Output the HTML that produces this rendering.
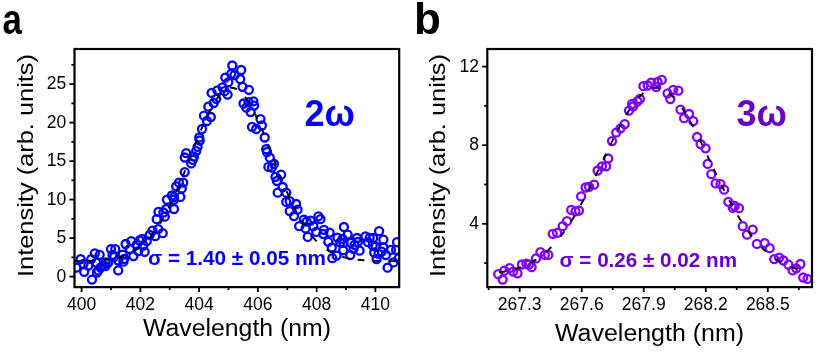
<!DOCTYPE html>
<html><head><meta charset="utf-8"><style>
html,body{margin:0;padding:0;background:#fff;width:830px;height:353px;overflow:hidden}
svg{display:block;will-change:transform}
text{font-family:"Liberation Sans",sans-serif}
</style></head><body>
<svg width="830" height="353" viewBox="0 0 830 353">
<defs><clipPath id="ca"><rect x="74.5" y="49.0" width="324.70" height="238.10"/></clipPath><clipPath id="cb"><rect x="487.3" y="49.0" width="324.70" height="238.10"/></clipPath></defs>
<line x1="69.40" y1="276.60" x2="74.50" y2="276.60" stroke="#000" stroke-width="1.8"/>
<line x1="69.40" y1="238.10" x2="74.50" y2="238.10" stroke="#000" stroke-width="1.8"/>
<line x1="69.40" y1="199.60" x2="74.50" y2="199.60" stroke="#000" stroke-width="1.8"/>
<line x1="69.40" y1="161.10" x2="74.50" y2="161.10" stroke="#000" stroke-width="1.8"/>
<line x1="69.40" y1="122.60" x2="74.50" y2="122.60" stroke="#000" stroke-width="1.8"/>
<line x1="69.40" y1="84.10" x2="74.50" y2="84.10" stroke="#000" stroke-width="1.8"/>
<line x1="71.40" y1="257.35" x2="74.50" y2="257.35" stroke="#000" stroke-width="1.8"/>
<line x1="71.40" y1="218.85" x2="74.50" y2="218.85" stroke="#000" stroke-width="1.8"/>
<line x1="71.40" y1="180.35" x2="74.50" y2="180.35" stroke="#000" stroke-width="1.8"/>
<line x1="71.40" y1="141.85" x2="74.50" y2="141.85" stroke="#000" stroke-width="1.8"/>
<line x1="71.40" y1="103.35" x2="74.50" y2="103.35" stroke="#000" stroke-width="1.8"/>
<line x1="71.40" y1="64.85" x2="74.50" y2="64.85" stroke="#000" stroke-width="1.8"/>
<line x1="81.60" y1="287.10" x2="81.60" y2="292.00" stroke="#000" stroke-width="1.8"/>
<line x1="140.36" y1="287.10" x2="140.36" y2="292.00" stroke="#000" stroke-width="1.8"/>
<line x1="199.12" y1="287.10" x2="199.12" y2="292.00" stroke="#000" stroke-width="1.8"/>
<line x1="257.88" y1="287.10" x2="257.88" y2="292.00" stroke="#000" stroke-width="1.8"/>
<line x1="316.64" y1="287.10" x2="316.64" y2="292.00" stroke="#000" stroke-width="1.8"/>
<line x1="375.40" y1="287.10" x2="375.40" y2="292.00" stroke="#000" stroke-width="1.8"/>
<line x1="110.98" y1="287.10" x2="110.98" y2="290.00" stroke="#000" stroke-width="1.8"/>
<line x1="169.74" y1="287.10" x2="169.74" y2="290.00" stroke="#000" stroke-width="1.8"/>
<line x1="228.50" y1="287.10" x2="228.50" y2="290.00" stroke="#000" stroke-width="1.8"/>
<line x1="287.26" y1="287.10" x2="287.26" y2="290.00" stroke="#000" stroke-width="1.8"/>
<line x1="346.02" y1="287.10" x2="346.02" y2="290.00" stroke="#000" stroke-width="1.8"/>
<text x="66.20" y="281.80" font-size="17.5" font-weight="normal" text-anchor="end" fill="#000" >0</text>
<text x="66.20" y="243.30" font-size="17.5" font-weight="normal" text-anchor="end" fill="#000" >5</text>
<text x="66.20" y="204.80" font-size="17.5" font-weight="normal" text-anchor="end" fill="#000" >10</text>
<text x="66.20" y="166.30" font-size="17.5" font-weight="normal" text-anchor="end" fill="#000" >15</text>
<text x="66.20" y="127.80" font-size="17.5" font-weight="normal" text-anchor="end" fill="#000" >20</text>
<text x="66.20" y="89.30" font-size="17.5" font-weight="normal" text-anchor="end" fill="#000" >25</text>
<text x="81.60" y="309.80" font-size="17.5" font-weight="normal" text-anchor="middle" fill="#000" >400</text>
<text x="140.36" y="309.80" font-size="17.5" font-weight="normal" text-anchor="middle" fill="#000" >402</text>
<text x="199.12" y="309.80" font-size="17.5" font-weight="normal" text-anchor="middle" fill="#000" >404</text>
<text x="257.88" y="309.80" font-size="17.5" font-weight="normal" text-anchor="middle" fill="#000" >406</text>
<text x="316.64" y="309.80" font-size="17.5" font-weight="normal" text-anchor="middle" fill="#000" >408</text>
<text x="375.40" y="309.80" font-size="17.5" font-weight="normal" text-anchor="middle" fill="#000" >410</text>
<line x1="482.20" y1="223.80" x2="487.30" y2="223.80" stroke="#000" stroke-width="1.8"/>
<line x1="482.20" y1="145.20" x2="487.30" y2="145.20" stroke="#000" stroke-width="1.8"/>
<line x1="482.20" y1="66.60" x2="487.30" y2="66.60" stroke="#000" stroke-width="1.8"/>
<line x1="484.20" y1="263.10" x2="487.30" y2="263.10" stroke="#000" stroke-width="1.8"/>
<line x1="484.20" y1="184.50" x2="487.30" y2="184.50" stroke="#000" stroke-width="1.8"/>
<line x1="484.20" y1="105.90" x2="487.30" y2="105.90" stroke="#000" stroke-width="1.8"/>
<line x1="519.70" y1="287.10" x2="519.70" y2="292.00" stroke="#000" stroke-width="1.8"/>
<line x1="581.73" y1="287.10" x2="581.73" y2="292.00" stroke="#000" stroke-width="1.8"/>
<line x1="643.75" y1="287.10" x2="643.75" y2="292.00" stroke="#000" stroke-width="1.8"/>
<line x1="705.77" y1="287.10" x2="705.77" y2="292.00" stroke="#000" stroke-width="1.8"/>
<line x1="767.80" y1="287.10" x2="767.80" y2="292.00" stroke="#000" stroke-width="1.8"/>
<line x1="488.69" y1="287.10" x2="488.69" y2="290.00" stroke="#000" stroke-width="1.8"/>
<line x1="550.71" y1="287.10" x2="550.71" y2="290.00" stroke="#000" stroke-width="1.8"/>
<line x1="612.74" y1="287.10" x2="612.74" y2="290.00" stroke="#000" stroke-width="1.8"/>
<line x1="674.76" y1="287.10" x2="674.76" y2="290.00" stroke="#000" stroke-width="1.8"/>
<line x1="736.79" y1="287.10" x2="736.79" y2="290.00" stroke="#000" stroke-width="1.8"/>
<line x1="798.81" y1="287.10" x2="798.81" y2="290.00" stroke="#000" stroke-width="1.8"/>
<text x="479.00" y="229.00" font-size="17.5" font-weight="normal" text-anchor="end" fill="#000" >4</text>
<text x="479.00" y="150.40" font-size="17.5" font-weight="normal" text-anchor="end" fill="#000" >8</text>
<text x="479.00" y="71.80" font-size="17.5" font-weight="normal" text-anchor="end" fill="#000" >12</text>
<text x="519.70" y="309.80" font-size="17.5" font-weight="normal" text-anchor="middle" fill="#000" >267.3</text>
<text x="581.73" y="309.80" font-size="17.5" font-weight="normal" text-anchor="middle" fill="#000" >267.6</text>
<text x="643.75" y="309.80" font-size="17.5" font-weight="normal" text-anchor="middle" fill="#000" >267.9</text>
<text x="705.77" y="309.80" font-size="17.5" font-weight="normal" text-anchor="middle" fill="#000" >268.2</text>
<text x="767.80" y="309.80" font-size="17.5" font-weight="normal" text-anchor="middle" fill="#000" >268.5</text>
<text x="237.00" y="336.30" font-size="23" font-weight="normal" text-anchor="middle" fill="#000" textLength="188" lengthAdjust="spacingAndGlyphs">Wavelength (nm)</text>
<text x="649.50" y="341.10" font-size="23" font-weight="normal" text-anchor="middle" fill="#000" textLength="189" lengthAdjust="spacingAndGlyphs">Wavelength (nm)</text>
<text transform="translate(33.0,277.0) rotate(-90)" x="0" y="0" font-size="22.5" textLength="223" lengthAdjust="spacingAndGlyphs">Intensity (arb. units)</text>
<text transform="translate(445.0,277.0) rotate(-90)" x="0" y="0" font-size="22.5" textLength="223" lengthAdjust="spacingAndGlyphs">Intensity (arb. units)</text>
<text transform="translate(2.6,33.9) scale(0.83,1)" x="0" y="0" font-size="42" font-weight="bold">a</text>
<text x="414.00" y="34.00" font-size="44" font-weight="bold" text-anchor="start" fill="#000" >b</text>
<text x="304.50" y="126.00" font-size="36" font-weight="bold" text-anchor="start" fill="#0000ff" >2ω</text>
<text x="736.50" y="126.00" font-size="36" font-weight="bold" text-anchor="start" fill="#6a00cc" >3ω</text>
<text x="148.00" y="265.40" font-size="20.5" font-weight="bold" text-anchor="start" fill="#0000ff" textLength="178" lengthAdjust="spacingAndGlyphs">σ = 1.40 ± 0.05 nm</text>
<text x="559.50" y="267.00" font-size="20.5" font-weight="bold" text-anchor="start" fill="#6a00cc" textLength="177.5" lengthAdjust="spacingAndGlyphs">σ = 0.26 ± 0.02 nm</text>
<g fill="none" stroke="#0000ff" stroke-width="2.3" clip-path="url(#ca)">
<circle cx="76.4" cy="267.6" r="4.0"/>
<circle cx="80.6" cy="259.1" r="4.0"/>
<circle cx="84.2" cy="271.8" r="4.0"/>
<circle cx="83.5" cy="264.0" r="4.0"/>
<circle cx="88.4" cy="265.5" r="4.0"/>
<circle cx="91.2" cy="259.1" r="4.0"/>
<circle cx="92.0" cy="279.6" r="4.0"/>
<circle cx="94.8" cy="253.4" r="4.0"/>
<circle cx="96.2" cy="262.6" r="4.0"/>
<circle cx="99.7" cy="254.8" r="4.0"/>
<circle cx="98.3" cy="270.4" r="4.0"/>
<circle cx="100.5" cy="267.6" r="4.0"/>
<circle cx="96.9" cy="272.5" r="4.0"/>
<circle cx="105.4" cy="266.2" r="4.0"/>
<circle cx="108.2" cy="262.6" r="4.0"/>
<circle cx="111.0" cy="249.2" r="4.0"/>
<circle cx="115.3" cy="249.2" r="4.0"/>
<circle cx="112.5" cy="254.8" r="4.0"/>
<circle cx="118.2" cy="270.4" r="4.0"/>
<circle cx="118.2" cy="260.5" r="4.0"/>
<circle cx="124.2" cy="258.9" r="4.0"/>
<circle cx="125.6" cy="244.0" r="4.0"/>
<circle cx="131.2" cy="241.2" r="4.0"/>
<circle cx="129.8" cy="249.0" r="4.0"/>
<circle cx="133.4" cy="256.1" r="4.0"/>
<circle cx="136.9" cy="244.7" r="4.0"/>
<circle cx="139.7" cy="240.5" r="4.0"/>
<circle cx="138.3" cy="251.1" r="4.0"/>
<circle cx="143.3" cy="245.5" r="4.0"/>
<circle cx="144.7" cy="251.8" r="4.0"/>
<circle cx="146.8" cy="241.2" r="4.0"/>
<circle cx="149.7" cy="234.8" r="4.0"/>
<circle cx="152.5" cy="230.6" r="4.0"/>
<circle cx="156.7" cy="219.2" r="4.0"/>
<circle cx="158.2" cy="229.2" r="4.0"/>
<circle cx="155.3" cy="236.2" r="4.0"/>
<circle cx="184.7" cy="172.1" r="4.0"/>
<circle cx="179.0" cy="182.7" r="4.0"/>
<circle cx="183.2" cy="182.7" r="4.0"/>
<circle cx="176.2" cy="186.3" r="4.0"/>
<circle cx="181.8" cy="188.4" r="4.0"/>
<circle cx="171.9" cy="195.5" r="4.0"/>
<circle cx="167.0" cy="199.7" r="4.0"/>
<circle cx="180.4" cy="196.9" r="4.0"/>
<circle cx="174.0" cy="199.7" r="4.0"/>
<circle cx="174.0" cy="209.0" r="4.0"/>
<circle cx="166.2" cy="209.0" r="4.0"/>
<circle cx="163.4" cy="212.5" r="4.0"/>
<circle cx="158.5" cy="211.8" r="4.0"/>
<circle cx="164.8" cy="216.7" r="4.0"/>
<circle cx="199.7" cy="140.5" r="4.0"/>
<circle cx="197.6" cy="146.8" r="4.0"/>
<circle cx="196.2" cy="151.1" r="4.0"/>
<circle cx="186.2" cy="153.2" r="4.0"/>
<circle cx="194.0" cy="156.7" r="4.0"/>
<circle cx="184.8" cy="157.5" r="4.0"/>
<circle cx="192.7" cy="159.8" r="4.0"/>
<circle cx="191.2" cy="163.4" r="4.0"/>
<circle cx="199.2" cy="137.5" r="4.0"/>
<circle cx="264.7" cy="137.5" r="4.0"/>
<circle cx="266.2" cy="149.2" r="4.0"/>
<circle cx="267.0" cy="152.0" r="4.0"/>
<circle cx="269.8" cy="157.7" r="4.0"/>
<circle cx="274.0" cy="164.0" r="4.0"/>
<circle cx="268.4" cy="166.9" r="4.0"/>
<circle cx="271.9" cy="167.6" r="4.0"/>
<circle cx="281.1" cy="174.7" r="4.0"/>
<circle cx="275.5" cy="176.8" r="4.0"/>
<circle cx="276.9" cy="181.0" r="4.0"/>
<circle cx="282.7" cy="187.0" r="4.0"/>
<circle cx="277.7" cy="192.7" r="4.0"/>
<circle cx="286.2" cy="192.7" r="4.0"/>
<circle cx="289.7" cy="201.2" r="4.0"/>
<circle cx="286.2" cy="201.9" r="4.0"/>
<circle cx="296.1" cy="204.0" r="4.0"/>
<circle cx="297.5" cy="209.7" r="4.0"/>
<circle cx="289.7" cy="211.1" r="4.0"/>
<circle cx="294.0" cy="216.1" r="4.0"/>
<circle cx="303.9" cy="219.6" r="4.0"/>
<circle cx="306.7" cy="221.7" r="4.0"/>
<circle cx="299.2" cy="226.2" r="4.0"/>
<circle cx="305.6" cy="228.4" r="4.0"/>
<circle cx="310.6" cy="220.6" r="4.0"/>
<circle cx="318.4" cy="216.3" r="4.0"/>
<circle cx="320.5" cy="219.2" r="4.0"/>
<circle cx="313.4" cy="226.2" r="4.0"/>
<circle cx="316.2" cy="231.9" r="4.0"/>
<circle cx="307.7" cy="236.9" r="4.0"/>
<circle cx="324.0" cy="229.8" r="4.0"/>
<circle cx="323.3" cy="234.0" r="4.0"/>
<circle cx="329.7" cy="232.6" r="4.0"/>
<circle cx="328.3" cy="241.8" r="4.0"/>
<circle cx="331.8" cy="247.5" r="4.0"/>
<circle cx="337.5" cy="237.6" r="4.0"/>
<circle cx="340.3" cy="242.5" r="4.0"/>
<circle cx="343.9" cy="227.0" r="4.0"/>
<circle cx="343.2" cy="250.3" r="4.0"/>
<circle cx="347.7" cy="234.6" r="4.0"/>
<circle cx="342.6" cy="238.8" r="4.0"/>
<circle cx="350.2" cy="255.0" r="4.0"/>
<circle cx="357.0" cy="238.0" r="4.0"/>
<circle cx="354.5" cy="244.8" r="4.0"/>
<circle cx="359.6" cy="250.7" r="4.0"/>
<circle cx="365.5" cy="236.3" r="4.0"/>
<circle cx="368.0" cy="242.2" r="4.0"/>
<circle cx="373.2" cy="238.0" r="4.0"/>
<circle cx="379.1" cy="231.2" r="4.0"/>
<circle cx="383.4" cy="239.7" r="4.0"/>
<circle cx="375.7" cy="246.5" r="4.0"/>
<circle cx="376.6" cy="259.2" r="4.0"/>
<circle cx="381.7" cy="251.6" r="4.0"/>
<circle cx="385.9" cy="255.0" r="4.0"/>
<circle cx="391.0" cy="249.9" r="4.0"/>
<circle cx="397.0" cy="242.2" r="4.0"/>
<circle cx="396.1" cy="249.9" r="4.0"/>
<circle cx="398.7" cy="258.4" r="4.0"/>
<circle cx="387.6" cy="267.7" r="4.0"/>
<circle cx="332.3" cy="258.2" r="4.0"/>
<circle cx="336.6" cy="255.6" r="4.0"/>
<circle cx="343.4" cy="242.9" r="4.0"/>
<circle cx="351.0" cy="242.9" r="4.0"/>
<circle cx="357.8" cy="242.0" r="4.0"/>
<circle cx="353.6" cy="248.8" r="4.0"/>
<circle cx="369.7" cy="237.8" r="4.0"/>
<circle cx="393.5" cy="262.4" r="4.0"/>
<circle cx="174.0" cy="197.1" r="4.0"/>
<circle cx="162.7" cy="233.2" r="4.0"/>
<circle cx="142.1" cy="238.9" r="4.0"/>
<circle cx="105.7" cy="262.5" r="4.0"/>
<circle cx="102.8" cy="266.0" r="4.0"/>
<circle cx="114.2" cy="256.8" r="4.0"/>
<circle cx="122.7" cy="254.7" r="4.0"/>
<circle cx="123.4" cy="261.7" r="4.0"/>
<circle cx="372.7" cy="245.4" r="4.0"/>
<circle cx="374.2" cy="252.5" r="4.0"/>
<circle cx="378.4" cy="253.9" r="4.0"/>
<circle cx="383.4" cy="247.5" r="4.0"/>
<circle cx="232.3" cy="65.5" r="4.0"/>
<circle cx="241.2" cy="70.0" r="4.0"/>
<circle cx="231.2" cy="73.8" r="4.0"/>
<circle cx="234.5" cy="75.2" r="4.0"/>
<circle cx="225.3" cy="77.6" r="4.0"/>
<circle cx="240.2" cy="79.1" r="4.0"/>
<circle cx="228.3" cy="82.3" r="4.0"/>
<circle cx="242.5" cy="86.8" r="4.0"/>
<circle cx="248.9" cy="89.8" r="4.0"/>
<circle cx="211.6" cy="92.9" r="4.0"/>
<circle cx="217.4" cy="90.3" r="4.0"/>
<circle cx="222.5" cy="87.3" r="4.0"/>
<circle cx="224.6" cy="91.2" r="4.0"/>
<circle cx="227.6" cy="94.6" r="4.0"/>
<circle cx="216.2" cy="98.8" r="4.0"/>
<circle cx="213.7" cy="103.0" r="4.0"/>
<circle cx="208.3" cy="106.7" r="4.0"/>
<circle cx="243.5" cy="103.5" r="4.0"/>
<circle cx="248.5" cy="102.1" r="4.0"/>
<circle cx="253.4" cy="101.4" r="4.0"/>
<circle cx="254.1" cy="105.6" r="4.0"/>
<circle cx="246.3" cy="107.7" r="4.0"/>
<circle cx="250.6" cy="112.0" r="4.0"/>
<circle cx="204.0" cy="115.7" r="4.0"/>
<circle cx="210.8" cy="117.0" r="4.0"/>
<circle cx="206.9" cy="121.0" r="4.0"/>
<circle cx="202.0" cy="129.0" r="4.0"/>
<circle cx="260.5" cy="119.1" r="4.0"/>
<circle cx="261.9" cy="125.5" r="4.0"/>
<circle cx="252.0" cy="126.9" r="4.0"/>
<circle cx="256.2" cy="129.0" r="4.0"/>
</g>
<g fill="none" stroke="#8000ff" stroke-width="2.3" clip-path="url(#cb)">
<circle cx="498.2" cy="274.2" r="4.0"/>
<circle cx="502.6" cy="279.5" r="4.0"/>
<circle cx="504.3" cy="270.7" r="4.0"/>
<circle cx="509.6" cy="268.1" r="4.0"/>
<circle cx="513.1" cy="271.6" r="4.0"/>
<circle cx="517.5" cy="273.3" r="4.0"/>
<circle cx="521.9" cy="264.5" r="4.0"/>
<circle cx="526.3" cy="263.7" r="4.0"/>
<circle cx="528.9" cy="264.5" r="4.0"/>
<circle cx="531.6" cy="267.2" r="4.0"/>
<circle cx="536.0" cy="258.4" r="4.0"/>
<circle cx="540.4" cy="252.2" r="4.0"/>
<circle cx="544.8" cy="254.9" r="4.0"/>
<circle cx="548.3" cy="254.9" r="4.0"/>
<circle cx="552.7" cy="233.8" r="4.0"/>
<circle cx="557.1" cy="232.9" r="4.0"/>
<circle cx="562.7" cy="226.2" r="4.0"/>
<circle cx="567.0" cy="221.2" r="4.0"/>
<circle cx="571.2" cy="209.9" r="4.0"/>
<circle cx="575.5" cy="211.3" r="4.0"/>
<circle cx="579.0" cy="210.6" r="4.0"/>
<circle cx="581.1" cy="196.4" r="4.0"/>
<circle cx="585.6" cy="187.5" r="4.0"/>
<circle cx="589.1" cy="186.8" r="4.0"/>
<circle cx="594.1" cy="184.7" r="4.0"/>
<circle cx="597.6" cy="170.5" r="4.0"/>
<circle cx="601.9" cy="166.3" r="4.0"/>
<circle cx="606.1" cy="166.3" r="4.0"/>
<circle cx="608.2" cy="158.5" r="4.0"/>
<circle cx="612.0" cy="141.1" r="4.0"/>
<circle cx="616.2" cy="132.6" r="4.0"/>
<circle cx="620.5" cy="128.3" r="4.0"/>
<circle cx="624.7" cy="124.1" r="4.0"/>
<circle cx="629.0" cy="110.6" r="4.0"/>
<circle cx="633.2" cy="106.4" r="4.0"/>
<circle cx="637.5" cy="101.4" r="4.0"/>
<circle cx="632.1" cy="104.0" r="4.0"/>
<circle cx="639.9" cy="99.0" r="4.0"/>
<circle cx="643.4" cy="86.2" r="4.0"/>
<circle cx="647.7" cy="85.5" r="4.0"/>
<circle cx="651.2" cy="82.7" r="4.0"/>
<circle cx="656.2" cy="87.0" r="4.0"/>
<circle cx="657.6" cy="82.0" r="4.0"/>
<circle cx="661.8" cy="79.9" r="4.0"/>
<circle cx="667.5" cy="93.3" r="4.0"/>
<circle cx="670.3" cy="99.0" r="4.0"/>
<circle cx="673.2" cy="89.8" r="4.0"/>
<circle cx="678.4" cy="90.6" r="4.0"/>
<circle cx="680.5" cy="109.7" r="4.0"/>
<circle cx="689.0" cy="114.0" r="4.0"/>
<circle cx="684.1" cy="118.2" r="4.0"/>
<circle cx="693.3" cy="121.1" r="4.0"/>
<circle cx="697.1" cy="137.0" r="4.0"/>
<circle cx="700.6" cy="144.1" r="4.0"/>
<circle cx="705.6" cy="148.3" r="4.0"/>
<circle cx="707.7" cy="163.9" r="4.0"/>
<circle cx="711.3" cy="174.2" r="4.0"/>
<circle cx="715.6" cy="183.4" r="4.0"/>
<circle cx="720.5" cy="184.1" r="4.0"/>
<circle cx="724.1" cy="189.7" r="4.0"/>
<circle cx="728.3" cy="201.8" r="4.0"/>
<circle cx="734.7" cy="206.0" r="4.0"/>
<circle cx="739.0" cy="208.2" r="4.0"/>
<circle cx="732.8" cy="207.8" r="4.0"/>
<circle cx="742.7" cy="226.2" r="4.0"/>
<circle cx="752.7" cy="229.7" r="4.0"/>
<circle cx="747.0" cy="234.7" r="4.0"/>
<circle cx="756.9" cy="243.9" r="4.0"/>
<circle cx="764.7" cy="243.2" r="4.0"/>
<circle cx="769.7" cy="248.2" r="4.0"/>
<circle cx="774.2" cy="259.1" r="4.0"/>
<circle cx="779.2" cy="257.7" r="4.0"/>
<circle cx="783.4" cy="260.5" r="4.0"/>
<circle cx="788.4" cy="264.7" r="4.0"/>
<circle cx="792.6" cy="270.4" r="4.0"/>
<circle cx="796.2" cy="268.3" r="4.0"/>
<circle cx="800.4" cy="264.0" r="4.0"/>
<circle cx="803.2" cy="277.5" r="4.0"/>
<circle cx="807.5" cy="278.9" r="4.0"/>
</g>
<path d="M74.49,261.10 L75.14,261.09 L75.78,261.09 L76.43,261.08 L77.07,261.07 L77.72,261.06 L78.37,261.05 L79.01,261.05 L79.61,261.04M87.51,260.86 L88.33,260.84 L89.19,260.81 L90.05,260.78 L90.91,260.74 L91.77,260.71 L92.63,260.67 L93.49,260.63 L94.31,260.59M102.82,260.00 L103.61,259.92 L104.42,259.84 L105.23,259.75 L106.04,259.66 L106.84,259.56 L107.65,259.46 L108.46,259.35 L109.27,259.24 L109.57,259.19M117.77,257.62 L118.58,257.41 L119.39,257.20 L120.19,256.98 L121.00,256.75 L121.81,256.50 L122.62,256.25 L123.42,255.98 L124.23,255.70 L124.29,255.68M133.89,251.25 L134.57,250.85 L135.27,250.42 L135.97,249.98 L136.67,249.52 L137.37,249.05 L138.07,248.56 L138.77,248.06 L139.47,247.54 L139.55,247.48M149.32,238.35 L149.86,237.74 L150.39,237.11 L150.93,236.48 L151.47,235.83 L152.01,235.17 L152.55,234.49 L153.09,233.81 L153.62,233.11 L153.63,233.10M159.93,223.95 L160.35,223.26 L160.78,222.56 L161.22,221.85 L161.65,221.13 L162.08,220.41 L162.51,219.67 L162.94,218.93 L163.37,218.18 L163.41,218.11M168.53,208.50 L168.86,207.85 L169.24,207.09 L169.61,206.33 L169.99,205.56 L170.37,204.78 L170.74,204.00 L171.12,203.21 L171.50,202.42 L171.51,202.38M176.01,192.47 L176.29,191.84 L176.61,191.10 L176.93,190.35 L177.26,189.60 L177.58,188.84 L177.90,188.09 L178.23,187.33 L178.55,186.56 L178.69,186.22M182.61,176.71 L182.91,175.97 L183.23,175.16 L183.56,174.36 L183.88,173.55 L184.20,172.74 L184.52,171.93 L184.85,171.12 L185.14,170.39M188.57,161.65 L188.83,160.97 L189.10,160.28 L189.37,159.59 L189.64,158.90 L189.91,158.21 L190.18,157.52 L190.45,156.82 L190.72,156.13 L190.98,155.44 L191.03,155.32M194.66,146.03 L194.97,145.24 L195.29,144.42 L195.61,143.60 L195.94,142.78 L196.26,141.96 L196.58,141.15 L196.91,140.34 L197.16,139.70M200.92,130.47 L201.21,129.76 L201.54,128.99 L201.86,128.22 L202.18,127.46 L202.51,126.70 L202.83,125.95 L203.15,125.20 L203.47,124.45 L203.58,124.21M207.74,115.06 L208.10,114.31 L208.48,113.53 L208.86,112.77 L209.23,112.01 L209.61,111.26 L209.99,110.52 L210.36,109.79 L210.74,109.07 L210.79,108.98M216.70,99.05 L217.20,98.33 L217.74,97.58 L218.28,96.86 L218.82,96.17 L219.35,95.50 L219.89,94.86 L220.43,94.24 L220.91,93.72M230.29,87.95 L231.09,87.87 L231.90,87.86 L232.71,87.92 L233.51,88.04 L234.32,88.23 L235.13,88.49 L235.94,88.82 L236.74,89.21 L236.85,89.26M245.05,96.94 L245.52,97.57 L246.00,98.23 L246.49,98.92 L246.97,99.63 L247.46,100.36 L247.94,101.11 L248.42,101.87 L248.86,102.57M254.37,112.68 L254.72,113.40 L255.10,114.17 L255.48,114.95 L255.85,115.74 L256.23,116.54 L256.61,117.35 L256.98,118.16 L257.29,118.83M261.38,128.15 L261.67,128.83 L261.99,129.60 L262.31,130.38 L262.64,131.16 L262.96,131.94 L263.28,132.72 L263.61,133.51 L263.93,134.30 L263.98,134.43M267.96,144.37 L268.24,145.07 L268.56,145.89 L268.88,146.71 L269.20,147.54 L269.53,148.36 L269.85,149.19 L270.17,150.02 L270.44,150.71M273.62,158.88 L273.89,159.56 L274.16,160.25 L274.43,160.94 L274.70,161.63 L274.96,162.32 L275.23,163.01 L275.50,163.70 L275.77,164.39 L276.04,165.08 L276.09,165.21M280.04,175.18 L280.35,175.94 L280.67,176.74 L280.99,177.54 L281.32,178.34 L281.64,179.13 L281.96,179.92 L282.29,180.71 L282.60,181.48M286.68,191.15 L286.97,191.81 L287.29,192.55 L287.62,193.29 L287.94,194.02 L288.26,194.75 L288.58,195.47 L288.91,196.20 L289.23,196.91 L289.44,197.37M293.58,206.17 L293.91,206.85 L294.29,207.61 L294.67,208.36 L295.04,209.11 L295.42,209.85 L295.80,210.59 L296.17,211.31 L296.55,212.04 L296.66,212.24M301.10,220.24 L301.50,220.93 L301.94,221.65 L302.37,222.37 L302.80,223.07 L303.23,223.76 L303.66,224.45 L304.09,225.13 L304.52,225.80 L304.67,226.03M312.09,236.19 L312.59,236.78 L313.13,237.41 L313.67,238.03 L314.21,238.64 L314.75,239.23 L315.29,239.81 L315.82,240.38 L316.36,240.94 L316.65,241.23M326.61,249.52 L327.29,249.97 L327.99,250.41 L328.69,250.84 L329.39,251.25 L330.09,251.65 L330.79,252.04 L331.49,252.41 L332.19,252.78 L332.49,252.93M342.31,256.76 L343.12,256.99 L343.92,257.21 L344.73,257.42 L345.54,257.63 L346.35,257.82 L347.15,258.00 L347.96,258.18 L348.77,258.34 L348.91,258.37M357.61,259.70 L358.41,259.79 L359.21,259.87 L360.02,259.95 L360.83,260.03 L361.64,260.10 L362.44,260.17 L363.25,260.23 L364.06,260.29 L364.38,260.32M373.31,260.78 L374.13,260.81 L374.99,260.84 L375.85,260.86 L376.71,260.89 L377.57,260.91 L378.43,260.93 L379.29,260.95 L380.11,260.97M388.27,261.10 L389.09,261.10 L389.95,261.11 L390.81,261.12 L391.67,261.13 L392.54,261.13 L393.40,261.14 L394.26,261.15 L395.07,261.15" fill="none" stroke="#000" stroke-width="1.9" clip-path="url(#ca)"/>
<path d="M499.07,272.40 L499.84,272.29 L500.65,272.17 L501.47,272.04 L502.28,271.91 L503.09,271.77 L503.91,271.63 L504.72,271.48 L505.53,271.32 L505.78,271.27M514.53,269.18 L515.34,268.95 L516.16,268.70 L516.97,268.45 L517.78,268.19 L518.60,267.91 L519.41,267.63 L520.22,267.35 L520.99,267.06M530.42,262.84 L531.10,262.48 L531.81,262.09 L532.52,261.69 L533.24,261.28 L533.95,260.85 L534.66,260.42 L535.37,259.98 L536.08,259.53 L536.28,259.40M546.39,251.70 L546.96,251.18 L547.57,250.63 L548.18,250.07 L548.79,249.49 L549.40,248.91 L550.01,248.32 L550.62,247.72 L551.23,247.11 L551.32,247.02M560.39,236.67 L560.89,236.04 L561.40,235.38 L561.91,234.72 L562.42,234.05 L562.92,233.37 L563.43,232.68 L563.94,231.99 L564.45,231.29 L564.48,231.24M571.19,221.31 L571.62,220.63 L572.07,219.90 L572.53,219.16 L572.99,218.42 L573.45,217.68 L573.90,216.92 L574.36,216.17 L574.75,215.52M580.62,205.26 L581.02,204.52 L581.43,203.78 L581.83,203.03 L582.24,202.27 L582.65,201.52 L583.05,200.76 L583.46,199.99 L583.84,199.27M588.14,190.97 L588.44,190.36 L588.80,189.65 L589.15,188.94 L589.51,188.23 L589.87,187.52 L590.22,186.81 L590.58,186.09 L590.93,185.37 L591.18,184.88M595.46,176.10 L595.81,175.36 L596.17,174.62 L596.53,173.88 L596.88,173.14 L597.24,172.40 L597.59,171.65 L597.95,170.91 L598.30,170.16 L598.40,169.97M603.25,159.75 L603.59,159.03 L603.95,158.28 L604.30,157.53 L604.66,156.78 L605.01,156.04 L605.37,155.29 L605.73,154.54 L606.08,153.79 L606.17,153.61M610.44,144.73 L610.76,144.07 L611.12,143.34 L611.47,142.61 L611.83,141.88 L612.18,141.16 L612.54,140.43 L612.89,139.71 L613.25,138.99 L613.43,138.62M617.72,130.16 L618.08,129.47 L618.49,128.70 L618.89,127.92 L619.30,127.15 L619.71,126.39 L620.11,125.63 L620.52,124.87 L620.91,124.16M626.21,114.86 L626.62,114.18 L627.08,113.43 L627.53,112.69 L627.99,111.96 L628.45,111.24 L628.91,110.52 L629.36,109.82 L629.82,109.12 L629.83,109.10M638.57,97.69 L639.18,97.05 L639.79,96.42 L640.40,95.81 L641.01,95.22 L641.62,94.65 L642.23,94.11 L642.84,93.58 L643.45,93.08 L643.51,93.03M652.54,88.29 L653.31,88.13 L654.12,87.99 L654.93,87.90 L655.75,87.85 L656.56,87.84 L657.37,87.88 L658.19,87.96 L659.00,88.08 L659.28,88.13M668.89,92.90 L669.47,93.38 L670.08,93.89 L670.69,94.43 L671.30,94.99 L671.91,95.57 L672.52,96.17 L673.13,96.79 L673.74,97.43 L673.85,97.54M681.94,107.93 L682.39,108.59 L682.84,109.28 L683.30,109.98 L683.76,110.69 L684.22,111.40 L684.67,112.13 L685.13,112.86 L685.59,113.61 L685.61,113.65M689.89,120.97 L690.26,121.64 L690.67,122.37 L691.08,123.11 L691.48,123.85 L691.89,124.60 L692.30,125.35 L692.70,126.11 L693.11,126.88 L693.15,126.94M699.23,138.84 L699.57,139.52 L699.92,140.24 L700.28,140.96 L700.63,141.68 L700.99,142.41 L701.35,143.14 L701.70,143.87 L702.06,144.60 L702.23,144.95M707.26,155.44 L707.60,156.15 L707.95,156.90 L708.31,157.65 L708.67,158.40 L709.02,159.15 L709.38,159.90 L709.73,160.65 L710.09,161.40 L710.17,161.58M713.61,168.81 L713.95,169.53 L714.31,170.28 L714.67,171.02 L715.02,171.77 L715.38,172.51 L715.73,173.26 L716.09,174.00 L716.44,174.74 L716.54,174.94M721.34,184.79 L721.68,185.49 L722.04,186.20 L722.39,186.92 L722.75,187.63 L723.10,188.34 L723.46,189.05 L723.82,189.76 L724.17,190.47 L724.38,190.87M729.22,200.23 L729.61,200.96 L730.02,201.72 L730.42,202.47 L730.83,203.23 L731.24,203.97 L731.64,204.72 L732.05,205.46 L732.46,206.20 L732.46,206.21M737.76,215.44 L738.20,216.17 L738.66,216.93 L739.12,217.68 L739.57,218.43 L740.03,219.17 L740.49,219.91 L740.95,220.64 L741.32,221.23M747.88,230.98 L748.37,231.65 L748.88,232.35 L749.38,233.03 L749.89,233.72 L750.40,234.39 L750.91,235.06 L751.42,235.72 L751.93,236.37 L751.96,236.41M761.05,246.82 L761.64,247.42 L762.25,248.03 L762.86,248.62 L763.47,249.21 L764.08,249.79 L764.69,250.35 L765.30,250.91 L765.91,251.46 L765.97,251.51M775.49,258.89 L776.17,259.34 L776.89,259.79 L777.60,260.24 L778.31,260.67 L779.02,261.10 L779.73,261.51 L780.44,261.92 L781.16,262.31 L781.31,262.40M791.17,266.92 L791.93,267.20 L792.75,267.49 L793.56,267.78 L794.37,268.05 L795.19,268.32 L796.00,268.58 L796.81,268.83 L797.62,269.07" fill="none" stroke="#000" stroke-width="1.9" clip-path="url(#cb)"/>
<rect x="74.50" y="49.00" width="324.70" height="238.10" fill="none" stroke="#000" stroke-width="2.2"/>
<rect x="487.30" y="49.00" width="324.70" height="238.10" fill="none" stroke="#000" stroke-width="2.2"/>
</svg></body></html>
